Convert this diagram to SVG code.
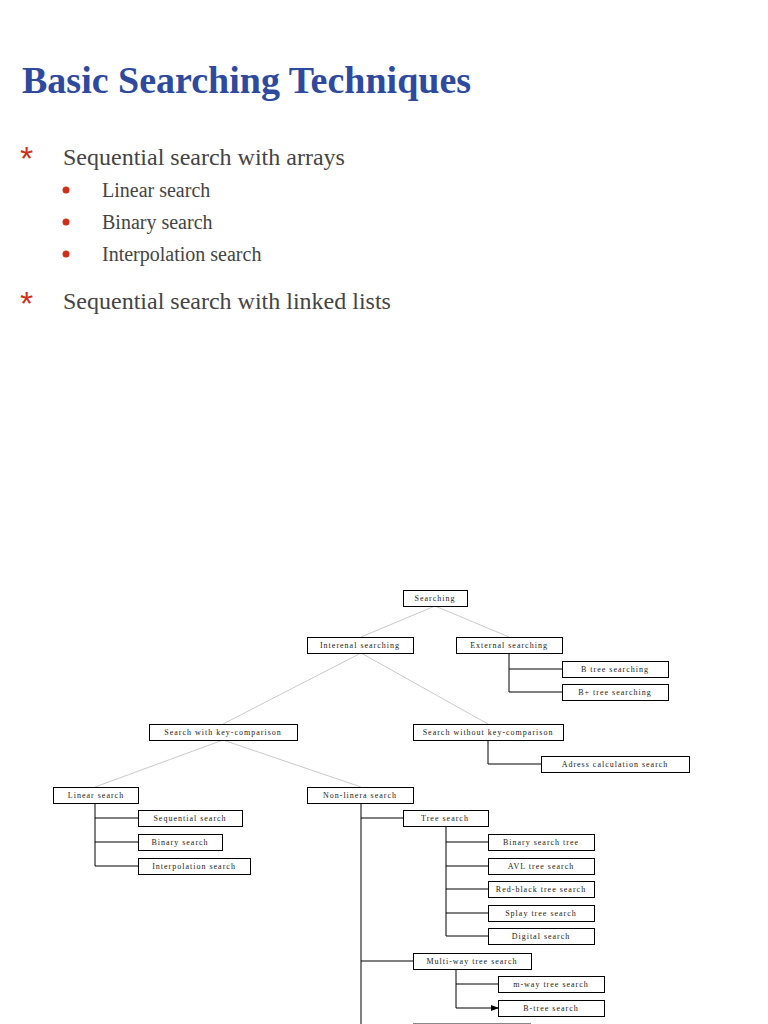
<svg xmlns="http://www.w3.org/2000/svg" width="768" height="1024" viewBox="0 0 768 1024">
<defs>
<marker id="a" markerWidth="8" markerHeight="6" refX="7" refY="3" orient="auto" markerUnits="userSpaceOnUse"><path d="M0,0 L8,3 L0,6z" fill="#000"/></marker>
<style>
.n rect{fill:#fff;stroke:#000;stroke-width:1}
.n text{font-family:"Liberation Serif",serif;font-size:8px;letter-spacing:1px;text-anchor:middle;fill:#222}
.g{stroke:#bbb;stroke-width:0.8;fill:none}
.k{stroke:#000;stroke-width:1;fill:none}
.k2{stroke:#000;stroke-width:1;fill:none;marker-end:url(#a)}
.t{font-family:"Liberation Serif",serif;fill:#444}
.star{font-family:"Liberation Sans",sans-serif;fill:#d0301a;font-size:34px}
</style>
</defs>
<rect width="768" height="1024" fill="#fff"/>
<text x="22" y="93" font-family="Liberation Serif,serif" font-weight="bold" font-size="38" fill="#2E4A9E">Basic Searching Techniques</text>
<text x="20" y="170" class="star">*</text>
<text x="63" y="165" class="t" font-size="24">Sequential search with arrays</text>
<circle cx="66" cy="190" r="3.5" fill="#d0301a"/><text x="102" y="197" class="t" font-size="20">Linear search</text>
<circle cx="66" cy="222" r="3.5" fill="#d0301a"/><text x="102" y="229" class="t" font-size="20">Binary search</text>
<circle cx="66" cy="254" r="3.5" fill="#d0301a"/><text x="102" y="261" class="t" font-size="20">Interpolation search</text>
<text x="20" y="315" class="star">*</text>
<text x="63" y="309" class="t" font-size="24">Sequential search with linked lists</text>
<g id="connectors">
<path class="g" d="M435,606 L361,637 M435,606 L509,637 M361,653 L223,724 M361,653 L488,724 M223,740 L95,787 M223,740 L361,787"/>
<path class="k" d="M509,653 V692 M488,740 V764 M95,803 V866 M361,803 V1024 M446,826 V936 M456,969 V1008"/>
<path class="k2" d="M509,669 H562 M509,692 H562 M488,764 H541 M95,818 H138 M95,842 H138 M95,866 H138 M361,818 H403 M446,842 H488 M446,866 H488 M446,889 H488 M446,913 H488 M446,936 H488 M361,961 H413 M456,984 H498 M456,1008 H498"/>
</g>
<g id="n1" class="n"><rect x="403.5" y="590.5" width="64" height="16"/><text x="435" y="601">Searching</text></g>
<g id="n2" class="n"><rect x="307.5" y="637.5" width="106" height="16"/><text x="360" y="648">Interenal searching</text></g>
<g id="n3" class="n"><rect x="456.5" y="637.5" width="106" height="16"/><text x="509" y="648">External searching</text></g>
<g id="n4" class="n"><rect x="562.5" y="661.5" width="106" height="16"/><text x="615" y="672">B tree searching</text></g>
<g id="n5" class="n"><rect x="562.5" y="684.5" width="106" height="16"/><text x="615" y="695">B+ tree searching</text></g>
<g id="n6" class="n"><rect x="149.5" y="724.5" width="148" height="16"/><text x="223" y="735">Search with key-comparison</text></g>
<g id="n7" class="n"><rect x="413.5" y="724.5" width="150" height="16"/><text x="488" y="735">Search without key-comparison</text></g>
<g id="n8" class="n"><rect x="541.5" y="756.5" width="148" height="16"/><text x="615" y="767">Adress calculation search</text></g>
<g id="n9" class="n"><rect x="53.5" y="787.5" width="85" height="16"/><text x="96" y="798">Linear search</text></g>
<g id="n10" class="n"><rect x="307.5" y="787.5" width="106" height="16"/><text x="360" y="798">Non-linera search</text></g>
<g id="n11" class="n"><rect x="138.5" y="810.5" width="104" height="16"/><text x="190" y="821">Sequential search</text></g>
<g id="n12" class="n"><rect x="138.5" y="834.5" width="84" height="16"/><text x="180" y="845">Binary search</text></g>
<g id="n13" class="n"><rect x="138.5" y="858.5" width="112" height="16"/><text x="194" y="869">Interpolation search</text></g>
<g id="n14" class="n"><rect x="403.5" y="810.5" width="85" height="16"/><text x="445" y="821">Tree search</text></g>
<g id="n15" class="n"><rect x="488.5" y="834.5" width="106" height="16"/><text x="541" y="845">Binary search tree</text></g>
<g id="n16" class="n"><rect x="488.5" y="858.5" width="106" height="16"/><text x="541" y="869">AVL tree search</text></g>
<g id="n17" class="n"><rect x="488.5" y="881.5" width="106" height="16"/><text x="541" y="892">Red-black tree search</text></g>
<g id="n18" class="n"><rect x="488.5" y="905.5" width="106" height="16"/><text x="541" y="916">Splay tree search</text></g>
<g id="n19" class="n"><rect x="488.5" y="928.5" width="106" height="16"/><text x="541" y="939">Digital search</text></g>
<g id="n20" class="n"><rect x="413.5" y="953.5" width="118" height="16"/><text x="472" y="964">Multi-way tree search</text></g>
<g id="n21" class="n"><rect x="498.5" y="976.5" width="106" height="16"/><text x="551" y="987">m-way tree search</text></g>
<g id="n22" class="n"><rect x="498.5" y="1000.5" width="106" height="16"/><text x="551" y="1011">B-tree search</text></g>
<line x1="413" y1="1023.5" x2="531" y2="1023.5" stroke="#888" stroke-width="1"/>
</svg>
